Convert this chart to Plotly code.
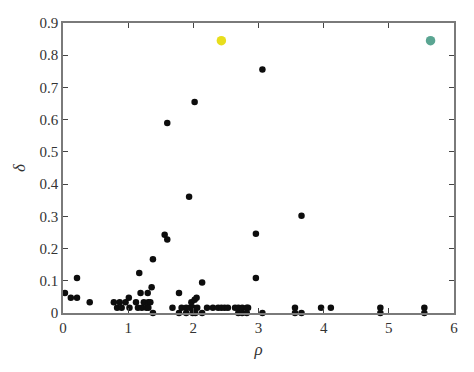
import plotly.graph_objects as go

rho = [0.03, 0.12, 0.215, 0.215, 0.41, 0.78, 0.83, 0.87, 0.90, 0.96, 1.01, 1.02,
       1.12, 1.15, 1.17, 1.19, 1.21, 1.24, 1.28, 1.30, 1.31, 1.34, 1.31, 1.36,
       1.38, 1.38, 1.56, 1.60, 1.60, 1.68, 1.78, 1.78, 1.82, 1.89, 1.89, 1.935,
       1.95, 1.97, 1.99, 2.00, 2.02, 2.02, 2.05, 2.06, 2.03, 2.135, 2.135, 2.21,
       2.30, 2.38, 2.43, 2.48, 2.53, 2.64, 2.69, 2.69, 2.75, 2.75, 2.82, 2.82,
       2.84, 2.96, 2.96, 3.06, 3.06, 3.56, 3.56, 3.66, 3.66, 3.96, 4.11, 4.87,
       4.87, 5.545, 5.545]
delta = [0.062, 0.047, 0.047, 0.109, 0.033, 0.033, 0.016, 0.033, 0.016, 0.033, 0.047, 0.016,
         0.033, 0.016, 0.124, 0.062, 0.016, 0.033, 0.016, 0.062, 0.033, 0.033, 0.016, 0.080,
         0.167, 0.0, 0.243, 0.228, 0.590, 0.016, 0.062, 0.0, 0.016, 0.016, 0.0, 0.361,
         0.016, 0.033, 0.0, 0.016, 0.041, 0.655, 0.047, 0.016, 0.0, 0.095, 0.0, 0.016,
         0.016, 0.016, 0.016, 0.016, 0.016, 0.016, 0.016, 0.0, 0.016, 0.0, 0.016, 0.0,
         0.016, 0.246, 0.109, 0.756, 0.0, 0.016, 0.0, 0.0, 0.302, 0.016, 0.016, 0.016,
         0.0, 0.016, 0.0]

center_rho = [2.43, 5.64]
center_delta = [0.845, 0.845]
center_colors = ["#e8de1c", "#5aa592"]

x_ticks = [0, 1, 2, 3, 4, 5, 6]
y_ticks = [0, 0.1, 0.2, 0.3, 0.4, 0.5, 0.6, 0.7, 0.8, 0.9]
y_labels = ["0", "0.1", "0.2", "0.3", "0.4", "0.5", "0.6", "0.7", "0.8", "0.9"]

fig = go.Figure()
fig.add_trace(go.Scatter(x=rho, y=delta, mode="markers",
                         marker=dict(color="#0d0d0d", size=6.5, line=dict(width=0)),
                         cliponaxis=False, showlegend=False))
fig.add_trace(go.Scatter(x=center_rho, y=center_delta, mode="markers",
                         marker=dict(color=center_colors, size=9.5, line=dict(width=0)),
                         cliponaxis=False, showlegend=False))

axis_common = dict(showgrid=False, zeroline=False, showline=True, linecolor="#7a7a7a",
                   linewidth=1.5, mirror="allticks", ticks="inside", ticklen=5,
                   tickwidth=1.2, tickcolor="#444444",
                   tickfont=dict(family="Liberation Serif", size=15, color="#333333"))

fig.update_xaxes(range=[0, 6], tickvals=x_ticks, **axis_common,
                 title=dict(text="<i>ρ</i>", font=dict(family="Liberation Serif", size=17, color="#333333"),
                            standoff=8))
fig.update_yaxes(range=[0, 0.9], tickvals=y_ticks, ticktext=y_labels, **axis_common,
                 title=dict(text="<i>δ</i>", font=dict(family="Liberation Serif", size=17, color="#333333"),
                            standoff=10))

fig.update_layout(width=474, height=372, margin=dict(l=63, r=20, t=23, b=59),
                  paper_bgcolor="white", plot_bgcolor="white")

fig.write_html("out.html")
